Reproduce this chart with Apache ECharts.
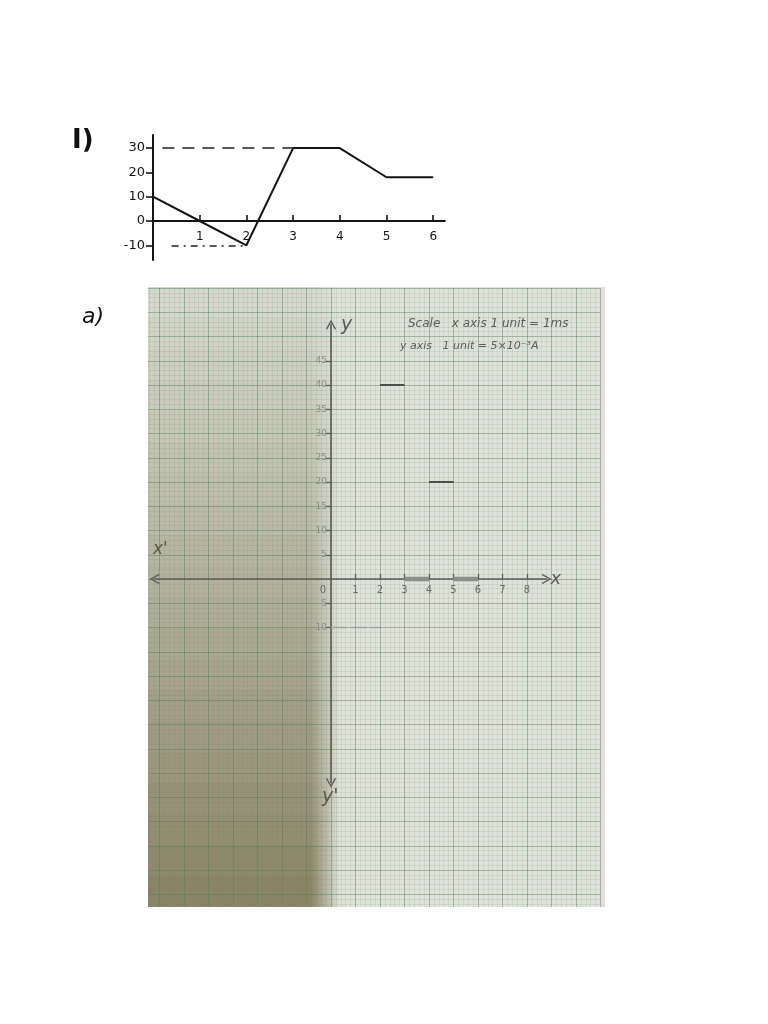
<!DOCTYPE html>
<html>
<head>
<meta charset="utf-8">
<script src="https://cdn.jsdelivr.net/npm/echarts@6/dist/echarts.min.js"></script>
<style>
html,body{margin:0;padding:0;background:#ffffff;}
#c{width:768px;height:1024px;}
</style>
</head>
<body>
<div id="c"></div>
<script>
// ---------- data: sketch I) ----------
const xTop = [0, 1, 2, 3, 4, 5, 6];
const yTop = [10, 0, -10, 30, 30, 18, 18];
const topXTicks = [1, 2, 3, 4, 5, 6];
const topYTicks = [-10, 0, 10, 20, 30];
const guideLevel = [30, -10];
const guideFrom = [0.2, 0.4];
const guideTo = [3, 2];

// ---------- data: graph a) ----------
const segStart = [0, 2, 3, 4, 5];
const segEnd = [2, 3, 4, 5, 6];
const segLevel = [-10, 40, 0, 20, 0];
const xTicksB = [0, 1, 2, 3, 4, 5, 6, 7, 8];
const yTicksB = [-10, -5, 5, 10, 15, 20, 25, 30, 35, 40, 45];

// ---------- layout helpers ----------
const T = { x0: 153, ux: 46.7, y0: 221, uy: 2.43, xmax: 6.25, ymin: -16, ymax: 35.4 };
const B = { x0: 331, ux: 24.5, y0: 579, uy: 4.85 };
const paper = { x: 148, y: 287, w: 457, h: 620 };
const A = { xmin: -8, xmax: 11, ymin: -70, ymax: 60 };
const P = { xmin: -7.2, xmax: 8.8, ymin: -42, ymax: 52.4 };

const pencil = '#5b5d56';
const pencilLight = '#8b8d85';
const hand = '"DejaVu Sans", sans-serif';
const majorLine = 'rgba(80,125,88,0.45)';
const minorLine = 'rgba(100,135,105,0.2)';

const chart = echarts.init(document.getElementById('c'), null, { renderer: 'canvas' });

// shadow bands (photo lighting)
const shadow = [];
const nb = 20, bh = paper.h / nb;
for (let i = 0; i < nb; i++) {
  const t = (i + 0.5) / nb;
  const a = (0.06 + 0.6 * Math.pow(t, 1.05)).toFixed(3);
  const y1 = Math.round(paper.y + i * bh), y2 = Math.round(paper.y + (i + 1) * bh);
  shadow.push({
    type: 'rect', z: -5,
    shape: { x: paper.x, y: y1, width: 192, height: y2 - y1 },
    style: {
      fill: new echarts.graphic.LinearGradient(0, 0, 1, 0, [
        { offset: 0, color: 'rgba(92,80,38,' + a + ')' },
        { offset: 0.85, color: 'rgba(92,80,38,' + a + ')' },
        { offset: 1, color: 'rgba(92,80,38,0)' }
      ])
    }
  });
}

const chevron = 'path://M5,0L10,9L9,10L5,2.6L1,10L0,9Z';

function segLook(level) {
  if (level === 0) return { color: '#8e8f89', width: 4.5, type: 'solid' };
  if (level < 0) return { color: '#a3a49c', width: 1.6, type: [16, 4] };
  return { color: '#4c4e47', width: 2, type: 'solid' };
}

const segSeries = segLevel.map((lv, i) => ({
  type: 'line', xAxisIndex: 2, yAxisIndex: 2,
  data: [[segStart[i], lv], [segEnd[i], lv]],
  symbol: 'none', silent: true, z: 5,
  lineStyle: segLook(lv)
}));

const option = {
  backgroundColor: '#ffffff',
  animation: false,
  grid: [
    { left: T.x0, top: T.y0 - T.ymax * T.uy, width: T.xmax * T.ux, height: (T.ymax - T.ymin) * T.uy },
    { left: B.x0 + A.xmin * B.ux, top: B.y0 - A.ymax * B.uy, width: (A.xmax - A.xmin) * B.ux, height: (A.ymax - A.ymin) * B.uy },
    { left: B.x0 + P.xmin * B.ux, top: B.y0 - P.ymax * B.uy, width: (P.xmax - P.xmin) * B.ux, height: (P.ymax - P.ymin) * B.uy }
  ],
  xAxis: [
    {
      gridIndex: 0, type: 'value', min: 0, max: T.xmax, position: 'bottom',
      offset: T.ymin * T.uy,
      axisLine: { show: true, onZero: false, lineStyle: { color: '#141414', width: 2 } },
      axisTick: { show: true, inside: true, length: 6, customValues: topXTicks, lineStyle: { color: '#141414', width: 1.6 } },
      axisLabel: { show: true, customValues: topXTicks, color: '#151515', fontSize: 12, margin: 10, fontFamily: hand },
      splitLine: { show: false }
    },
    {
      gridIndex: 1, type: 'value', min: A.xmin, max: A.xmax, interval: 1,
      axisLine: { show: false }, axisTick: { show: false }, axisLabel: { show: false },
      minorTick: { show: false, splitNumber: 5 },
      splitLine: { show: true, lineStyle: { color: majorLine, width: 1 } },
      minorSplitLine: { show: true, lineStyle: { color: minorLine, width: 0.7 } }
    },
    {
      gridIndex: 2, type: 'value', min: P.xmin, max: P.xmax, position: 'bottom',
      offset: P.ymin * B.uy,
      name: 'x', nameLocation: 'end', nameGap: 4,
      nameTextStyle: { color: pencil, fontSize: 18, fontFamily: hand, fontStyle: 'italic' },
      axisLine: { show: true, onZero: false, symbol: [chevron, chevron], symbolSize: [10, 11], lineStyle: { color: pencil, width: 1.6 } },
      axisTick: { show: true, length: 5, inside: true, customValues: xTicksB.filter(v => v !== 0), lineStyle: { color: pencil, width: 1.3 } },
      axisLabel: {
        show: true, customValues: xTicksB, color: '#6a6c65', fontSize: 10, margin: 6, fontFamily: hand,
        formatter: v => (v === 0 ? '{z|0}' : String(v)),
        rich: { z: { color: '#6a6c65', fontSize: 10, fontFamily: hand, padding: [0, 16, 0, 0] } }
      },
      splitLine: { show: false }
    }
  ],
  yAxis: [
    {
      gridIndex: 0, type: 'value', min: T.ymin, max: T.ymax,
      axisLine: { show: true, onZero: false, lineStyle: { color: '#141414', width: 2 } },
      axisTick: { show: true, length: 7, customValues: topYTicks, lineStyle: { color: '#141414', width: 1.6 } },
      axisLabel: { show: true, customValues: topYTicks, color: '#151515', fontSize: 13, margin: 8, fontFamily: hand },
      splitLine: { show: false }
    },
    {
      gridIndex: 1, type: 'value', min: A.ymin, max: A.ymax, interval: 5,
      axisLine: { show: false }, axisTick: { show: false }, axisLabel: { show: false },
      minorTick: { show: false, splitNumber: 5 },
      splitLine: { show: true, lineStyle: { color: majorLine, width: 1 } },
      minorSplitLine: { show: true, lineStyle: { color: minorLine, width: 0.7 } }
    },
    {
      gridIndex: 2, type: 'value', min: P.ymin, max: P.ymax, position: 'left',
      offset: P.xmin * B.ux,
      axisLine: { show: true, onZero: false, symbol: [chevron, chevron], symbolSize: [10, 11], lineStyle: { color: pencil, width: 1.6 } },
      axisTick: { show: true, length: 5, customValues: yTicksB, lineStyle: { color: pencil, width: 1.3 } },
      axisLabel: { show: true, customValues: yTicksB, color: pencilLight, fontSize: 9, margin: 4, fontFamily: hand },
      splitLine: { show: false }
    }
  ],
  graphic: [
    { type: 'rect', z: -10, shape: { x: paper.x, y: paper.y, width: paper.w, height: paper.h }, style: { fill: '#dfe2d9' } },
    { type: 'rect', z: 1, shape: { x: 601, y: paper.y, width: 4, height: paper.h }, style: { fill: '#e6dde1' } },
    ...shadow,
    { type: 'rect', z: 1, shape: { x: 100, y: 280, width: paper.x - 100, height: 650 }, style: { fill: '#ffffff' } },
    { type: 'rect', z: 1, shape: { x: 100, y: paper.y + paper.h, width: 560, height: 30 }, style: { fill: '#ffffff' } },
    { type: 'text', z: 50, left: 72, top: 128, style: { text: 'I)', fill: '#111', font: 'bold 26px ' + hand } },
    { type: 'text', z: 50, left: 82, top: 306, style: { text: 'a)', fill: '#111', font: 'italic 22px ' + hand } },
    { type: 'text', z: 50, left: 408, top: 318, style: { text: 'Scale   x axis 1 unit = 1ms', fill: pencil, font: 'italic 12px ' + hand } },
    { type: 'text', z: 50, left: 400, top: 341, style: { text: 'y axis   1 unit = 5×10⁻³A', fill: pencil, font: 'italic 11px ' + hand } },
    { type: 'text', z: 50, left: 341, top: 316, style: { text: 'y', fill: pencil, font: 'italic 19px ' + hand } },
    { type: 'text', z: 50, left: 153, top: 541, style: { text: "x'", fill: '#5c5a48', font: 'italic 17px ' + hand } },
    { type: 'text', z: 50, left: 322, top: 788, style: { text: "y'", fill: '#5c5a48', font: 'italic 19px ' + hand } }
  ],
  series: [
    {
      type: 'line', xAxisIndex: 0, yAxisIndex: 0,
      data: xTop.map((x, i) => [x, yTop[i]]),
      symbol: 'none', silent: true, z: 5,
      lineStyle: { color: '#141414', width: 2 },
      markLine: {
        silent: true, symbol: 'none', label: { show: false },
        data: guideLevel.map((lv, i) => [
          { coord: [guideFrom[i], lv], lineStyle: { color: '#222', width: 1.5, type: lv > 0 ? [12, 8] : [7, 5, 2, 5] } },
          { coord: [guideTo[i], lv] }
        ])
      }
    },
    ...segSeries
  ]
};
chart.setOption(option);
</script>
</body>
</html>
